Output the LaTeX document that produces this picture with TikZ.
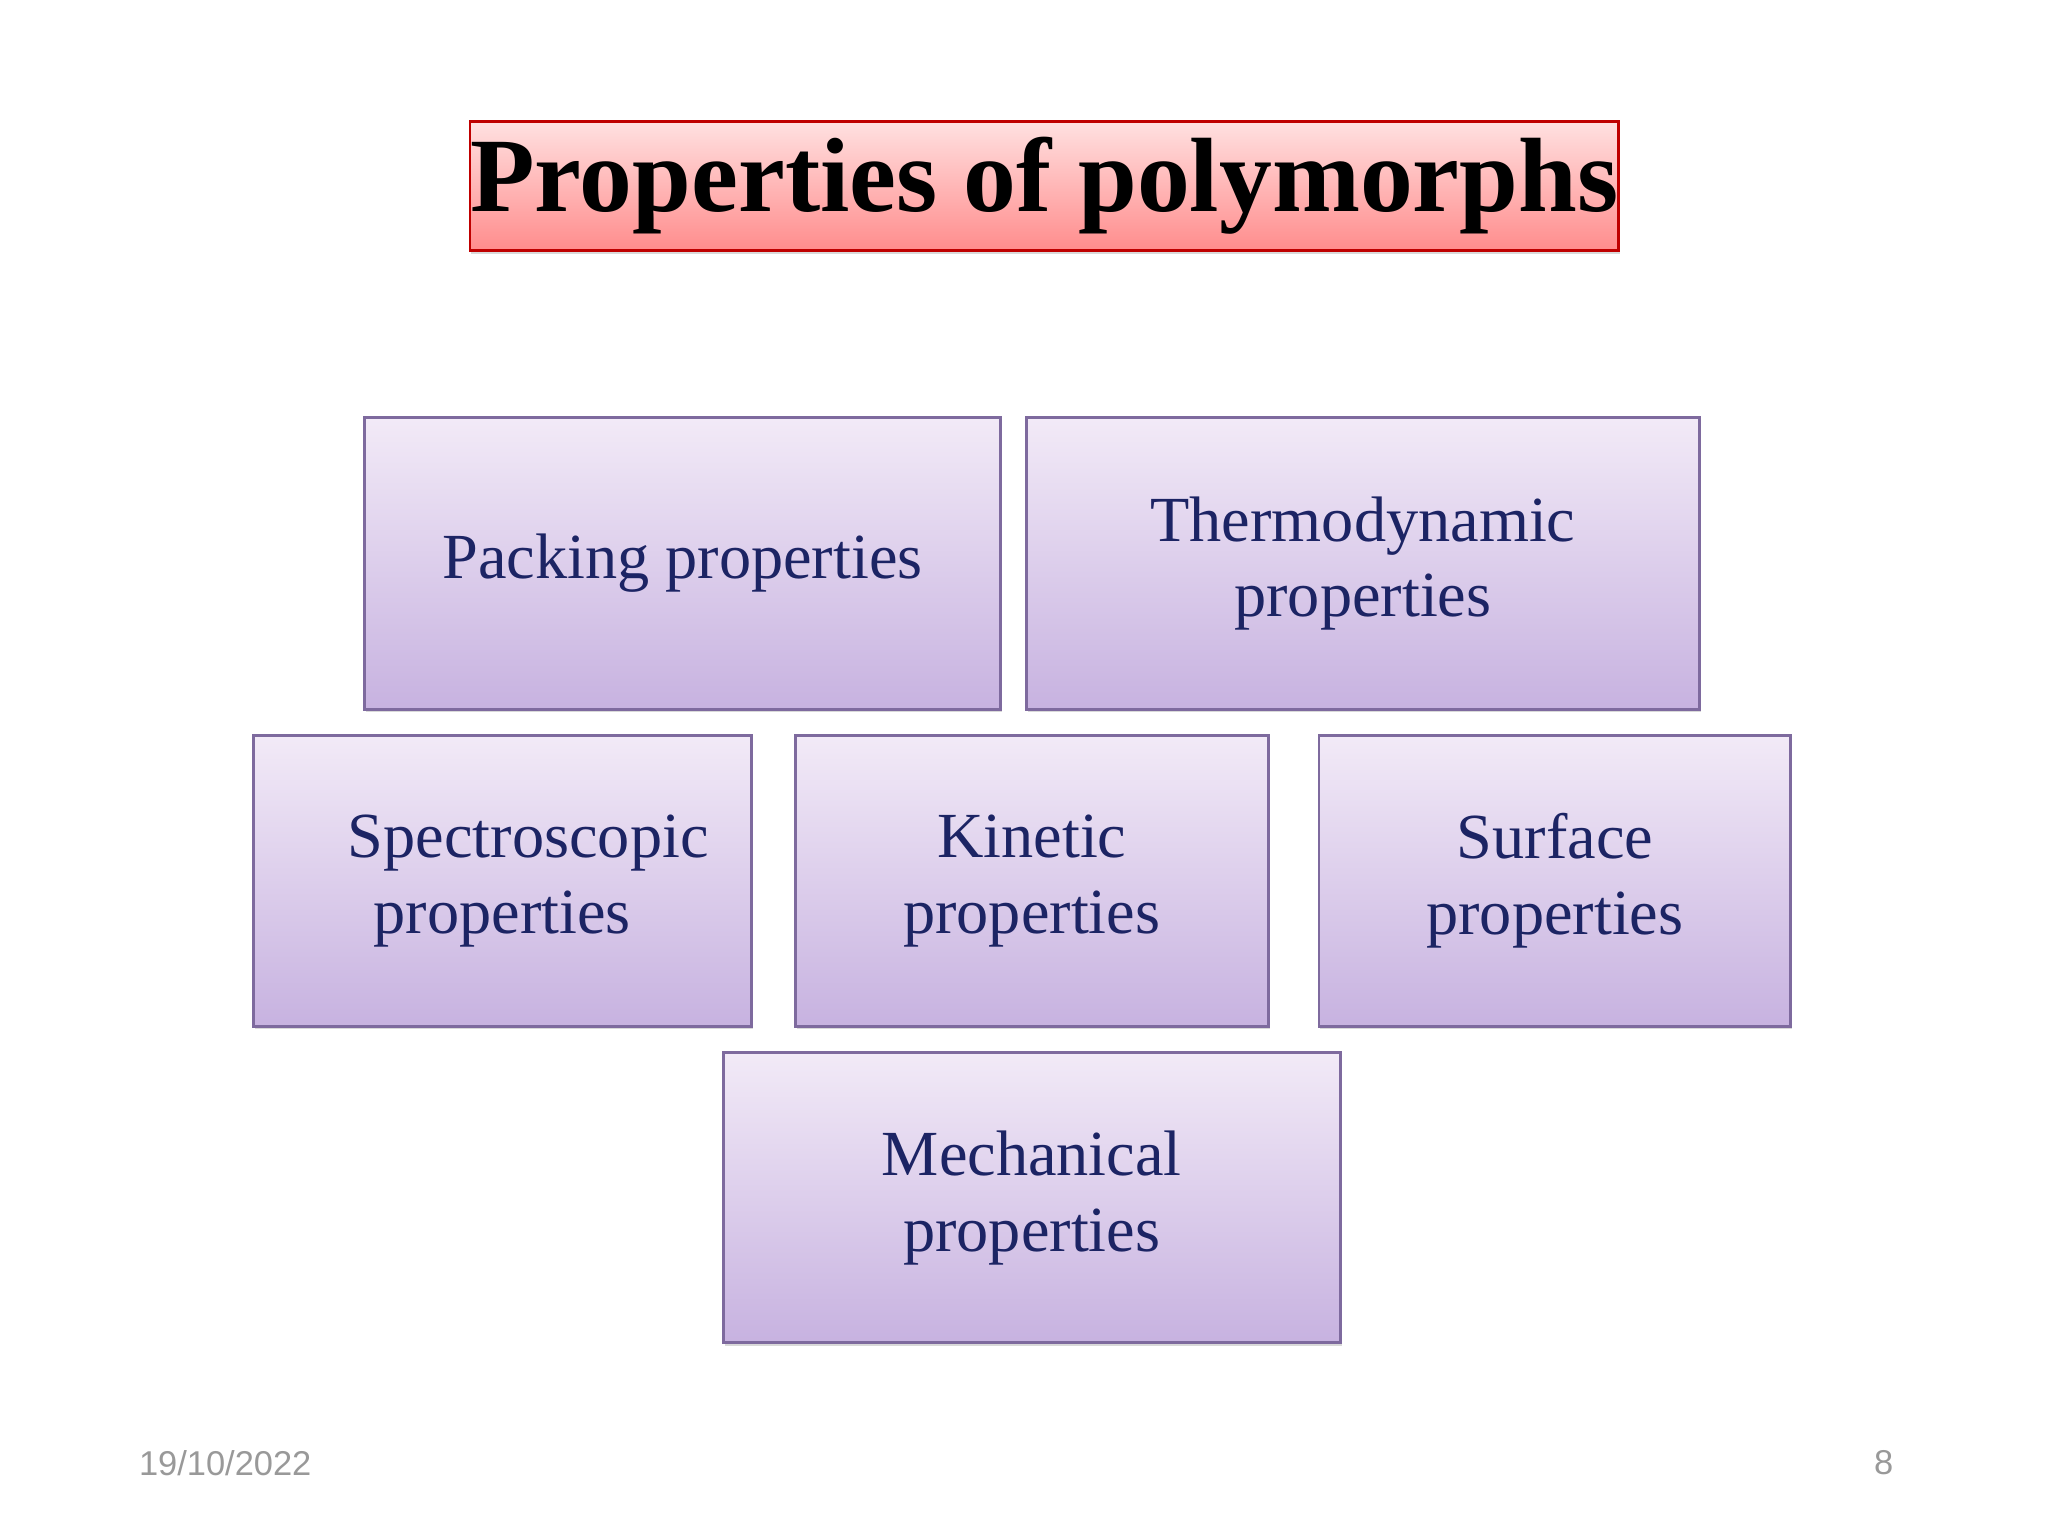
\documentclass[tikz,border=0pt]{standalone}
\usepackage{fontspec}
\setmainfont{Liberation Serif}
\newfontfamily\footfont{Liberation Sans}
\usetikzlibrary{shadows}
\definecolor{navy}{HTML}{1C2464}
\definecolor{boxtop}{HTML}{F2EAF7}
\definecolor{boxbot}{HTML}{C7B2E0}
\definecolor{boxline}{HTML}{7E6A9E}
\tikzset{
 pbox/.style={draw=boxline, line width=0.6pt, top color=boxtop, bottom color=boxbot,
   align=center, text=navy, font=\fontsize{14}{16.5}\selectfont, inner sep=0pt,
   drop shadow={shadow xshift=0.3pt, shadow yshift=-0.6pt, opacity=0.3}},
 foot/.style={text=gray!80, font=\footfont\fontsize{7.5}{9}\selectfont}
}
\begin{document}
\begin{tikzpicture}[x=0.01cm,y=-0.01cm]
\useasboundingbox (0,0) rectangle (1568,1176);
\node[draw=red!75!black, line width=0.6pt, top color=red!12, bottom color=red!45!white,
  minimum width=857\pgflinewidth, inner sep=0pt,
  font=\bfseries\fontsize{23}{26}\selectfont, text=black,
  drop shadow={shadow xshift=0.3pt, shadow yshift=-0.6pt, opacity=0.3}]
  (title) at (799.5,142.5) [minimum width=8.57cm, minimum height=0.99cm] {Properties of polymorphs};
\node[pbox, minimum width=4.87cm, minimum height=2.23cm] (pack) at (522.5,431.5) {Packing properties};
\node[pbox, minimum width=5.15cm, minimum height=2.23cm] (thermo) at (1043.5,431.5) {Thermodynamic\\properties};
\node[pbox, minimum width=3.81cm, minimum height=2.23cm] (spec) at (384.5,674.5) {\hspace*{0.4cm}Spectroscopic\\properties};
\node[pbox, minimum width=3.62cm, minimum height=2.23cm] (kin) at (790,674.5) {Kinetic\\properties};
\node[pbox, minimum width=3.61cm, minimum height=2.23cm] (surf) at (1190.5,674.5) {Surface\\properties};
\node[pbox, minimum width=4.72cm, minimum height=2.22cm] (mech) at (790,917) {Mechanical\\properties};
\node[foot, anchor=west] (date) at (94,1120) {19/10/2022};
\node[foot, anchor=east] (page) at (1462,1120) {8};
\end{tikzpicture}
\end{document}
